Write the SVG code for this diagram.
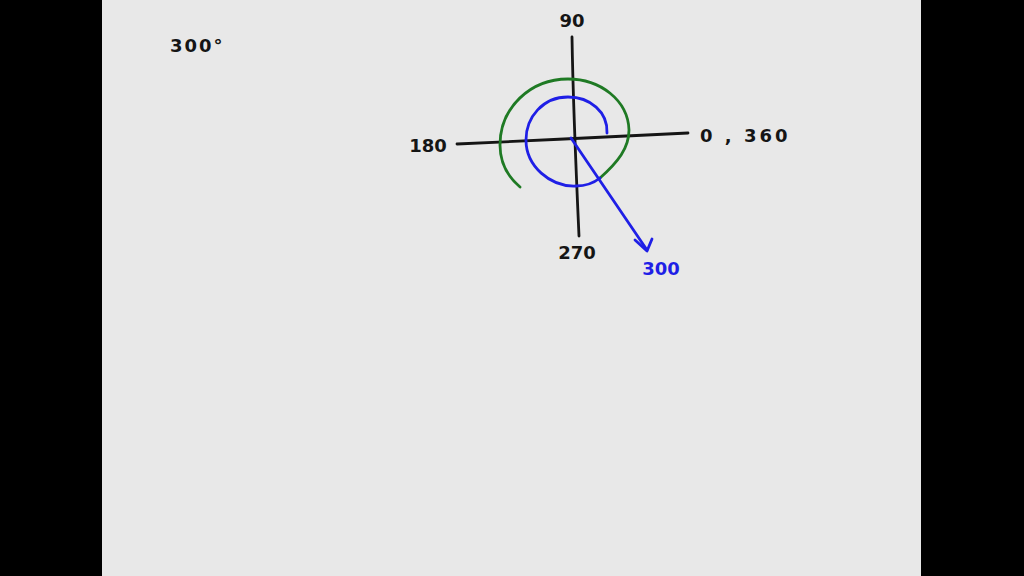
<svg xmlns="http://www.w3.org/2000/svg" width="1024" height="576" viewBox="0 0 1024 576">
<style>
.ink{fill:none;stroke-linecap:round;stroke-linejoin:round;stroke-width:2.8}
.k{stroke:#151515}.b{stroke:#1f1fe6}.g{stroke:#1f7a24}
text{font-family:"DejaVu Sans","Liberation Sans",sans-serif;font-size:18px;font-weight:bold}
</style>
<rect x="0" y="0" width="1024" height="576" fill="#000"/>
<rect x="102" y="0" width="819" height="576" fill="#e8e8e8"/>
<g id="title"><text x="170" y="52" fill="#151515" font-size="22" letter-spacing="2">300°</text></g>
<g id="axes">
<path class="ink k" d="M572,37 C573,100 576,170 579,236"/>
<path class="ink k" d="M457,144 C530,141 620,136 688,133"/>
</g>
<g id="labels" fill="#151515">
<text x="572" y="27" text-anchor="middle">90</text>
<text x="428" y="152" text-anchor="middle">180</text>
<text x="700" y="142" letter-spacing="3">0 , 360</text>
<text x="577" y="259" text-anchor="middle">270</text>
</g>
<g id="green-arc"><path class="ink g" d="M600,178 C618,162 629,148 629,130 C628,100 600,79 568,79 C530,79 500,108 500,145 C500,163 508,177 520,187"/></g>
<g id="blue-spiral"><path class="ink b" d="M607,133 C608,112 590,97 568,97 C543,97 526,117 526,140 C526,166 550,187 576,186 C587,186 595,182 600,178"/></g>
<g id="connectors">
<path class="ink b" d="M571,138 L647,250"/>
<path class="ink b" d="M635,240 L647,251 L652,239"/>
</g>
<g id="label-300"><text x="661" y="275" fill="#1f1fe6" text-anchor="middle">300</text></g>
</svg>
